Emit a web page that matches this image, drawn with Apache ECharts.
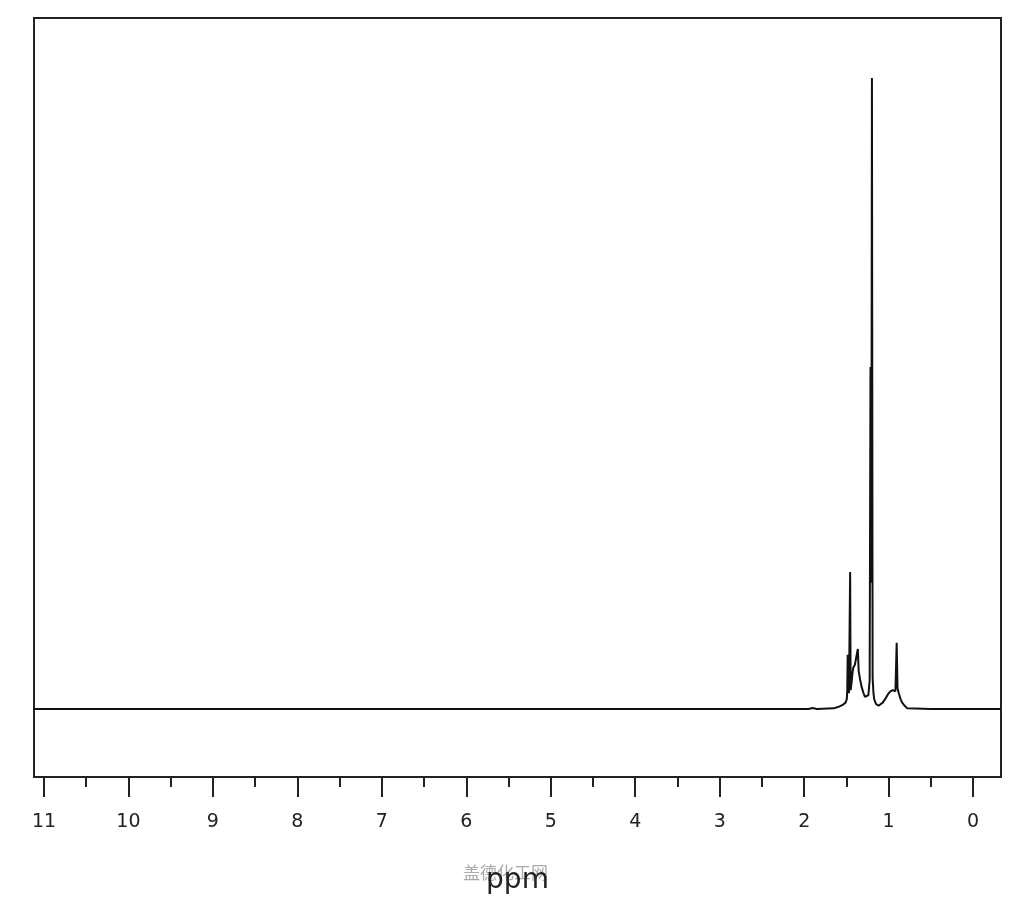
<!DOCTYPE html>
<html>
<head>
<meta charset="utf-8">
<script src="https://cdn.jsdelivr.net/npm/echarts@6/dist/echarts.min.js"></script>
<style>
  html, body { margin: 0; padding: 0; background: #fff; }
  #chart { width: 1024px; height: 900px; }
</style>
</head>
<body>
<div id="chart"></div>
<script>
// chemical shift (ppm) and relative intensity
const ppm = [
  11.12, 1.95, 1.90, 1.85, 1.65, 1.60, 1.55, 1.51, 1.495, 1.49, 1.485, 1.48,
  1.47, 1.462, 1.456, 1.45, 1.44, 1.43, 1.42, 1.40, 1.38, 1.365, 1.355, 1.34,
  1.32, 1.30, 1.28, 1.26, 1.24, 1.225, 1.215, 1.205, 1.198, 1.19, 1.18, 1.17,
  1.15, 1.12, 1.10, 1.07, 1.04, 1.01, 0.98, 0.95, 0.92, 0.905, 0.895, 0.88,
  0.86, 0.84, 0.81, 0.78, 0.76, 0.50, 0.49, 0.48, -0.33
];
const intensity = [
  0, 0, 0.15, 0, 0.1, 0.3, 0.6, 1.0, 1.6, 3.0, 8.6, 3.5,
  2.5, 2.6, 21.7, 3.0, 4.0, 5.5, 6.5, 7.0, 6.8, 9.5, 6.0, 4.8,
  3.5, 2.6, 1.9, 1.6, 2.2, 4.5, 54.2, 20, 100, 5, 2.5, 1.5,
  0.8, 0.5, 0.6, 1.0, 1.6, 2.3, 2.8, 3.0, 2.8, 10.5, 3.3, 2.5,
  1.6, 1.0, 0.5, 0.1, 0, 0, 0.3, 0, 0
];
const majorTicks = [0, 1, 2, 3, 4, 5, 6, 7, 8, 9, 10, 11];
const minorTicks = [0.5, 1.5, 2.5, 3.5, 4.5, 5.5, 6.5, 7.5, 8.5, 9.5, 10.5];

const chart = echarts.init(document.getElementById('chart'));

const xBase = {
  type: 'value',
  inverse: true,
  min: -0.33,
  max: 11.118,
  position: 'bottom',
  splitLine: { show: false },
  axisLine: { show: true, onZero: false, lineStyle: { color: '#222', width: 2 } }
};

chart.setOption({
  animation: false,
  grid: {
    left: 34, right: 23, top: 18, bottom: 123,
    outerBoundsMode: 'none',
    show: true, borderColor: '#222', borderWidth: 2, backgroundColor: '#fff'
  },
  xAxis: [
    Object.assign({}, xBase, {
      name: 'ppm',
      nameLocation: 'middle',
      nameGap: 90,
      nameTextStyle: { fontSize: 28, color: '#222', fontFamily: 'DejaVu Sans' },
      axisTick: { show: true, customValues: majorTicks, length: 20, lineStyle: { color: '#222', width: 2 } },
      axisLabel: { show: true, customValues: majorTicks, margin: 36, fontSize: 19, color: '#222', fontFamily: 'DejaVu Sans' }
    }),
    Object.assign({}, xBase, {
      axisTick: { show: true, customValues: minorTicks, length: 10, lineStyle: { color: '#222', width: 2 } },
      axisLabel: { show: false }
    })
  ],
  yAxis: {
    type: 'value',
    min: -10.78,
    max: 109.5,
    show: false
  },
  series: [{
    type: 'line',
    xAxisIndex: 0,
    data: ppm.map((p, i) => [p, intensity[i]]),
    showSymbol: false,
    lineStyle: { color: '#111', width: 2 }
  }],
  graphic: [{
    type: 'text',
    left: 463,
    top: 864,
    style: { text: '盖德化工网', fontSize: 17, fill: '#aaa', fontFamily: 'Noto Sans CJK SC' },
    z: -1
  }]
});

window.addEventListener('resize', chart.resize);
</script>
</body>
</html>
